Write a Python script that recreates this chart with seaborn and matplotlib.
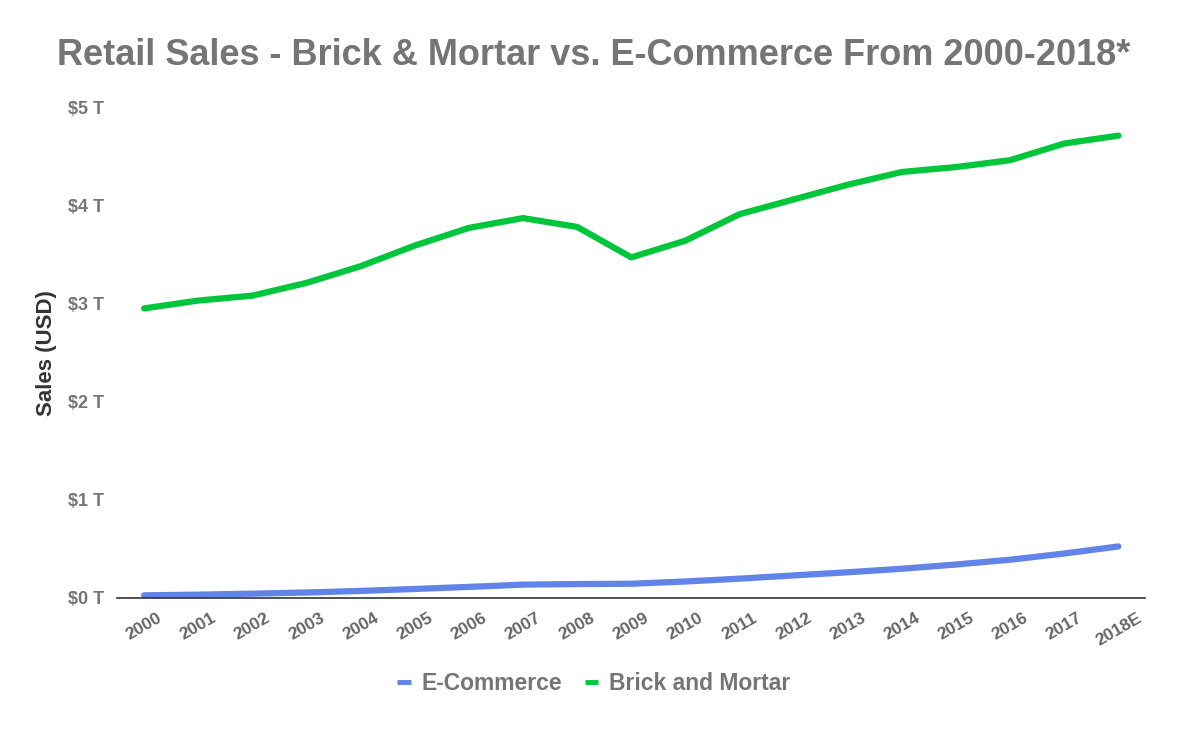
import pandas as pd
import matplotlib
matplotlib.use("Agg")
import matplotlib.pyplot as plt
import seaborn as sns

years = ["2000", "2001", "2002", "2003", "2004", "2005", "2006", "2007", "2008", "2009",
         "2010", "2011", "2012", "2013", "2014", "2015", "2016", "2017", "2018E"]
ecommerce = [0.027, 0.034, 0.044, 0.056, 0.072, 0.092, 0.113, 0.136, 0.142, 0.145,
             0.168, 0.197, 0.230, 0.262, 0.298, 0.341, 0.390, 0.453, 0.525]
brick = [2.95, 3.03, 3.08, 3.21, 3.38, 3.59, 3.77, 3.87, 3.78, 3.47,
         3.64, 3.91, 4.06, 4.21, 4.34, 4.39, 4.46, 4.63, 4.71]
yticks = [0, 1, 2, 3, 4, 5]
ytick_labels = ["$0 T", "$1 T", "$2 T", "$3 T", "$4 T", "$5 T"]

df = pd.DataFrame({"Year": years * 2,
                   "Sales": ecommerce + brick,
                   "Series": ["E-Commerce"] * len(years) + ["Brick and Mortar"] * len(years)})
df["x"] = list(range(len(years))) * 2

sns.set_style("white")
plt.rcParams['font.family'] = ['Liberation Sans', 'DejaVu Sans']

fig = plt.figure(figsize=(11.87, 7.34), dpi=100)
ax = fig.add_axes([0.0986, 0.1853, 0.8664, 0.6687])

pal = {"E-Commerce": "#6283E7", "Brick and Mortar": "#00C63B"}
sns.lineplot(data=df, x="x", y="Sales", hue="Series", palette=pal, linewidth=4.5,
             ax=ax, legend=True)

ax.set_xlim(-0.5, 18.5)
ax.set_ylim(0, 5)
ax.set_yticks(yticks)
ax.set_yticklabels(ytick_labels, fontsize=13, fontweight="bold", color="#757575")
ax.set_xticks(range(len(years)))
ax.set_xticklabels(years, rotation=30, fontsize=12.5, fontweight="bold", color="#666666",
                   ha="center")
ax.tick_params(axis="both", length=0)
ax.tick_params(axis="y", pad=9)
ax.tick_params(axis="x", pad=9)

for s in ["top", "right", "left"]:
    ax.spines[s].set_visible(False)
ax.spines["bottom"].set_color("#333333")
ax.spines["bottom"].set_linewidth(1.2)

ax.set_xlabel("")
ax.set_ylabel("Sales (USD)", fontsize=16, fontweight="bold", color="#333333", labelpad=8)

fig.text(0.5, 0.925, "Retail Sales - Brick & Mortar vs. E-Commerce From 2000-2018*",
         ha="center", va="center", fontsize=26, fontweight="bold", color="#757575")

handles, labels = ax.get_legend_handles_labels()
leg = ax.legend(handles, labels, loc="center", bbox_to_anchor=(0.5, 0.069),
                bbox_transform=fig.transFigure, ncol=2, frameon=False,
                handlelength=0.6, handletextpad=0.45, columnspacing=1.0,
                prop={"size": 16.5, "weight": "bold"})
for t in leg.get_texts():
    t.set_color("#757575")
for h in leg.get_lines():
    h.set_linewidth(3.5)
    h.set_solid_capstyle("butt")

fig.savefig("out.png", dpi=100)
